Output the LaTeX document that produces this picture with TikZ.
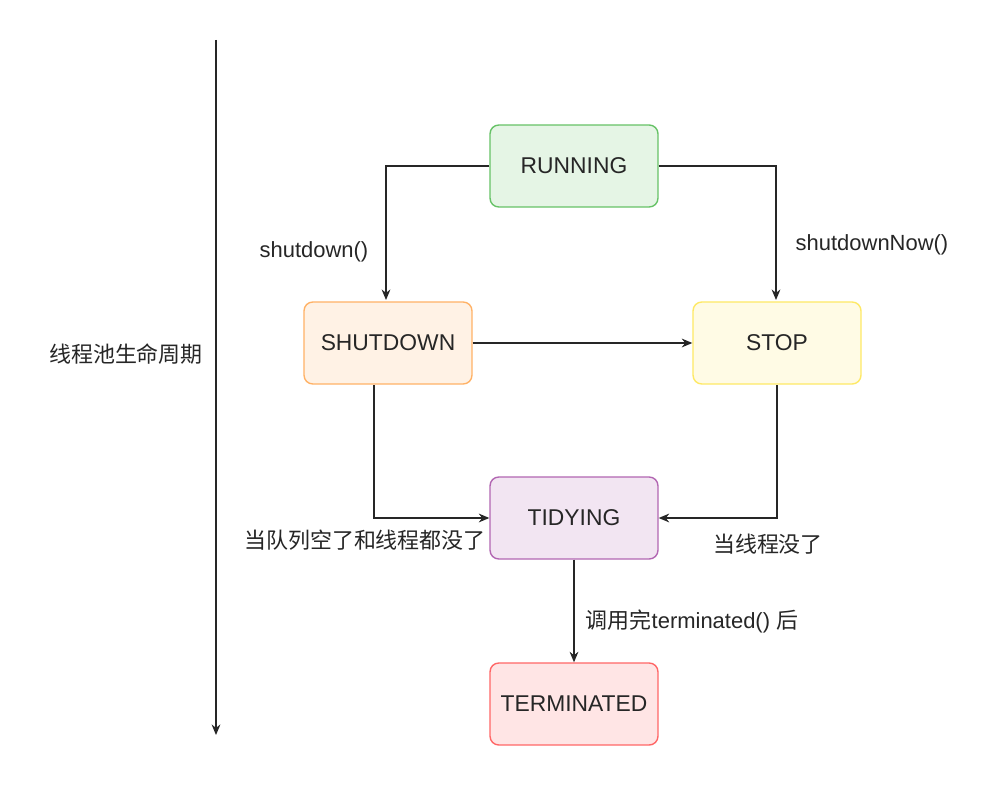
\documentclass[tikz,border=0pt]{standalone}
\usepackage{fontspec}
\setmainfont{Liberation Sans}
\newfontfamily\cjk{Noto Sans CJK SC}
\usetikzlibrary{arrows.meta}
\begin{document}
\begin{tikzpicture}[x=0.02cm,y=-0.02cm,
  st/.style={draw=#1!60, fill=#1!10, rounded corners=5pt, minimum width=3.36cm, minimum height=1.64cm, font=\fontsize{13pt}{15pt}\selectfont, text=black!85, line width=0.8pt},
  ar/.style={-{Stealth[length=6pt,width=5pt]}, line width=0.7pt, black!85},
  lb/.style={font=\fontsize{12.5pt}{15pt}\selectfont, text=black!85}]
\useasboundingbox (0,0) rectangle (1000,790);
\fill[white] (0,0) rectangle (1000,790);
\node[st=green!60!black] (run) at (574,166) {RUNNING};
\node[st=orange] (shut) at (388,343) {SHUTDOWN};
\node[st=yellow!80!orange] (stop) at (777,343) {STOP};
\node[st=violet] (tidy) at (574,518) {TIDYING};
\node[st=red] (term) at (574,704) {TERMINATED};
\coordinate (t0) at (216,40); \coordinate (t1) at (216,735);
\draw[ar] (t0) -- (t1);
\node[lb,font=\cjk\fontsize{12.5pt}{15pt}\selectfont] (life) at (126,354) {线程池生命周期};
\draw[ar] (run.west) -| (386,300);
\draw[ar] (run.east) -| (776,300);
\draw[ar] (shut.east) -- (stop.west);
\draw[ar] (374,385) |- (tidy.west);
\draw[ar] (777,385) |- (tidy.east);
\draw[ar] (tidy) -- (term);
\node[lb] (l1) at (314,252) {shutdown()};
\node[lb] (l2) at (872,245) {shutdownNow()};
\node[lb,font=\cjk\fontsize{12.5pt}{15pt}\selectfont] (l3) at (365,540) {当队列空了和线程都没了};
\node[lb,font=\cjk\fontsize{12.5pt}{15pt}\selectfont] (l4) at (768,544) {当线程没了};
\node[lb] (l5) at (692,621) {{\cjk 调用完}terminated() {\cjk 后}};
\end{tikzpicture}
\end{document}
